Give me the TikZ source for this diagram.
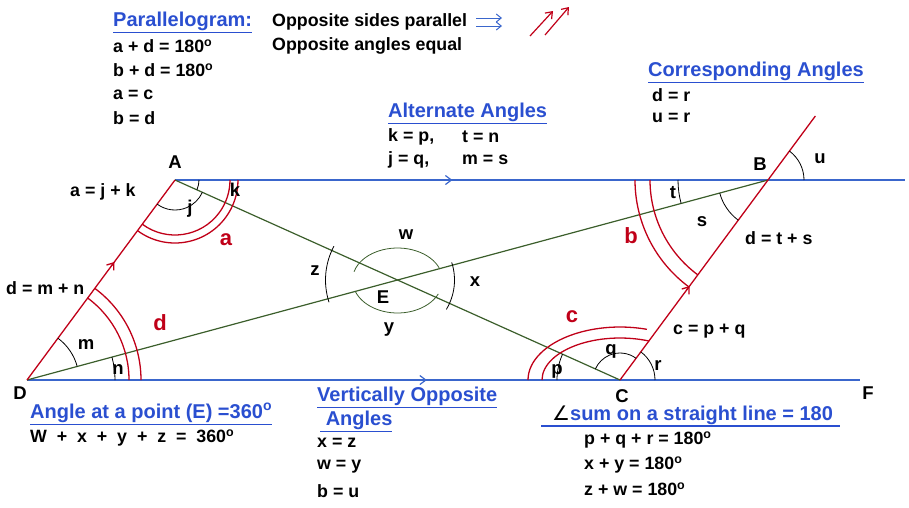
\documentclass[tikz,border=0pt]{standalone}
\usepackage{fontspec}
\setmainfont{Liberation Sans}
\newfontfamily\dejavu{DejaVu Sans}
\usetikzlibrary{calc,arrows.meta}
\definecolor{tblue}{HTML}{3A66CC}
\definecolor{hblue}{HTML}{2A4FD0}
\definecolor{tred}{HTML}{C00018}
\definecolor{tgreen}{HTML}{3B5E2B}
\begin{document}
\begin{tikzpicture}[x=1pt,y=-1pt,
  txt/.style={anchor=west,inner sep=0pt,font=\fontsize{17.8}{20}\selectfont\bfseries},
  head/.style={anchor=west,inner sep=0pt,text=hblue,font=\fontsize{20}{22}\selectfont\bfseries},
  lbl/.style={inner sep=0pt,font=\fontsize{18.5}{20}\selectfont\bfseries},
  rl/.style={lbl,text=tred,font=\fontsize{22}{24}\selectfont\bfseries},
  bl/.style={tblue,line width=1.2pt},
  gl/.style={tgreen,line width=1.2pt},
  rdl/.style={tred,line width=1.3pt},
  ang/.style={black,line width=0.8pt},
  gang/.style={tgreen,line width=0.8pt},
  rarc/.style={tred,line width=1.3pt}]
\useasboundingbox (0,0) rectangle (909,507);
\newcommand{\ul}[1]{\underline{#1}}
\newcommand{\dg}{\textsuperscript{o}}
\coordinate (D) at (27,380);
\coordinate (C) at (620,380);
\coordinate (F) at (860,380);
\coordinate (A) at (175,180);
\coordinate (B) at (768,180);
\coordinate (T) at (905,180);
\coordinate (Bx) at ($(C)!1.32!(B)$);
\coordinate (E) at ($(D)!0.5!(B)$);
% lines
\draw[bl] (D) -- (F);
\draw[bl] (A) -- (T);
\draw[gl] (A) -- (C);
\draw[gl] (D) -- (B);
\draw[rdl] (D) -- (A);
\draw[rdl] (C) -- (Bx);
% arrows
\draw[bl,-{Straight Barb[length=6pt,width=9pt]}] ($(A)!0.37!(T)$) -- ($(A)!0.38!(T)$);
\draw[bl,-{Straight Barb[length=6pt,width=9pt]}] ($(D)!0.47!(F)$) -- ($(D)!0.48!(F)$);
\draw[rdl,-{Straight Barb[length=6pt,width=9pt]}] ($(D)!0.57!(A)$) -- ($(D)!0.59!(A)$);
\draw[rdl,-{Straight Barb[length=6pt,width=9pt]}] ($(C)!0.45!(B)$) -- ($(C)!0.47!(B)$);
% angle arcs
\newcommand{\angarc}[5]{\draw[#1] ($(#2)+({cos(-(#3))*#5},{sin(-(#3))*#5})$) arc[start angle=-(#3),end angle=-(#4),radius=#5];}
% D
\angarc{ang}{D}{15.1}{53.5}{52}
\angarc{ang}{D}{0}{15.1}{88}
\angarc{rarc}{D}{0}{53.5}{102}
\angarc{rarc}{D}{0}{53.5}{114}
% A
\angarc{ang}{A}{233.5}{335.8}{30}
\angarc{ang}{A}{335.8}{360}{24}
\angarc{rarc}{A}{233.5}{360}{55}
\angarc{rarc}{A}{233.5}{360}{63}
% B
\angarc{ang}{B}{180}{195.1}{90}
\angarc{ang}{B}{195.1}{233.5}{50}
\angarc{ang}{B}{0}{53.5}{36}
\angarc{rarc}{B}{180}{233.5}{118}
\angarc{rarc}{B}{180}{233.5}{133}
% C
\angarc{ang}{C}{155.8}{180}{63}
\angarc{ang}{C}{53.5}{155.8}{27}
\angarc{ang}{C}{0}{53.5}{35}
\draw[rarc] ($(C)+(-92,0)$) arc[start angle=-180,end angle=-73,x radius=92,y radius=53];
\draw[rarc] ($(C)+(-78,0)$) arc[start angle=-180,end angle=-68,x radius=78,y radius=42];
% E
\angarc{ang}{E}{152}{198}{72}
\angarc{ang}{E}{-31}{18}{57}
\draw[gang] ($(E)+({cos(-20)*45},{sin(-20)*32})$) arc[start angle=-20,end angle=-165,x radius=45,y radius=32];
\draw[gang] ($(E)+({cos(-200)*45},{sin(-200)*33})$) arc[start angle=-200,end angle=-335,x radius=45,y radius=33];
% point labels
\node[lbl] (lA) at (175,162) {A};
\node[lbl] (lB) at (760,164) {B};
\node[lbl] (lC) at (622,396) {C};
\node[lbl] (lD) at (20,393) {D};
\node[lbl] (lF) at (868,393) {F};
\node[lbl] (lE) at (383,297) {E};
% angle labels
\node[lbl] (j) at (190,209) {j};
\node[lbl] (k) at (235,190) {k};
\node[lbl] (w) at (406,235) {w};
\node[lbl] (z) at (315,271) {z};
\node[lbl] (x) at (475,282) {x};
\node[lbl] (y) at (389,330) {y};
\node[lbl] (m) at (86,345) {m};
\node[lbl] (n) at (118,370) {n};
\node[lbl] (t) at (673,193) {t};
\node[lbl] (s) at (702,222) {s};
\node[lbl] (q) at (611,351) {q};
\node[lbl] (p) at (557,371) {p};
\node[lbl] (r) at (658,366) {r};
\node[lbl] (u) at (820,159) {u};
\node[rl] (ra) at (226,240) {a};
\node[rl] (rb) at (631,236) {b};
\node[rl] (rc) at (572,317) {c};
\node[rl] (rd) at (160,323) {d};
\node[txt] (ajk) at (70,192) {a = j + k};
\node[txt] (dmn) at (6,288) {d = m + n};
\node[txt] (dts) at (745,238) {d = t + s};
\node[txt] (cpq) at (673,331) {c = p + q};
% text blocks
\node[head] (h1) at (113,22) {\ul{Parallelogram:}};
\node[txt] at (113,46) {a + d = 180\dg};
\node[txt] at (113,70) {b + d = 180\dg};
\node[txt] at (113,95) {a = c};
\node[txt] at (113,118) {b = d};
\node[txt] (ops) at (272,22) {Opposite sides parallel};
\node[txt] at (272,46) {Opposite angles equal};
\coordinate (pa1) at (476,18); \coordinate (pa2) at (502,18);
\coordinate (pb1) at (476,26); \coordinate (pb2) at (502,26);
\draw[tblue,line width=1pt,-{Straight Barb[length=5pt,width=8pt]}] (pa1) -- (pa2);
\draw[tblue,line width=1pt,-{Straight Barb[length=5pt,width=8pt]}] (pb1) -- (pb2);
\coordinate (r1a) at (530,36); \coordinate (r1b) at (553,11);
\coordinate (r2a) at (545,35); \coordinate (r2b) at (569,7);
\draw[tred,line width=1.2pt,-{Straight Barb[length=6pt,width=9pt]}] (r1a) -- (r1b);
\draw[tred,line width=1.2pt,-{Straight Barb[length=6pt,width=9pt]}] (r2a) -- (r2b);
\node[head] (h2) at (388,113) {\ul{Alternate Angles}};
\node[txt] at (388,137) {k = p,};
\node[txt] at (462,137) {t = n};
\node[txt] at (388,160) {j = q,};
\node[txt] at (462,160) {m = s};
\node[head] (h3) at (648,72) {\ul{Corresponding Angles}};
\node[txt] at (652,95) {d = r};
\node[txt] at (652,118) {u = r};
\node[head] (h4) at (317,397) {\ul{Vertically Opposite}};
\node[head] at (320,421) {\ul{\ Angles}};
\node[txt] at (317,443) {x = z};
\node[txt] at (317,467) {w = y};
\node[txt] at (317,491) {b = u};
\node[head] (h5) at (30,414) {\ul{Angle at a point (E) =360\dg}};
\node[txt] at (30,438) {W\ \ +\ \ x\ \ +\ \ y\ \ +\ \ z\ \ =\ \ 360\dg};
\node[head] (h6) at (552,415) {{\dejavu\mdseries\textcolor{black}{∠}}sum on a straight line = 180};
\coordinate (u1) at (541,426); \coordinate (u2) at (840,426);
\draw[hblue,line width=1.2pt] (u1) -- (u2);
\node[txt] at (584,440) {p + q + r = 180\dg};
\node[txt] at (584,465) {x + y = 180\dg};
\node[txt] at (584,489) {z + w = 180\dg};
\end{tikzpicture}
\end{document}
